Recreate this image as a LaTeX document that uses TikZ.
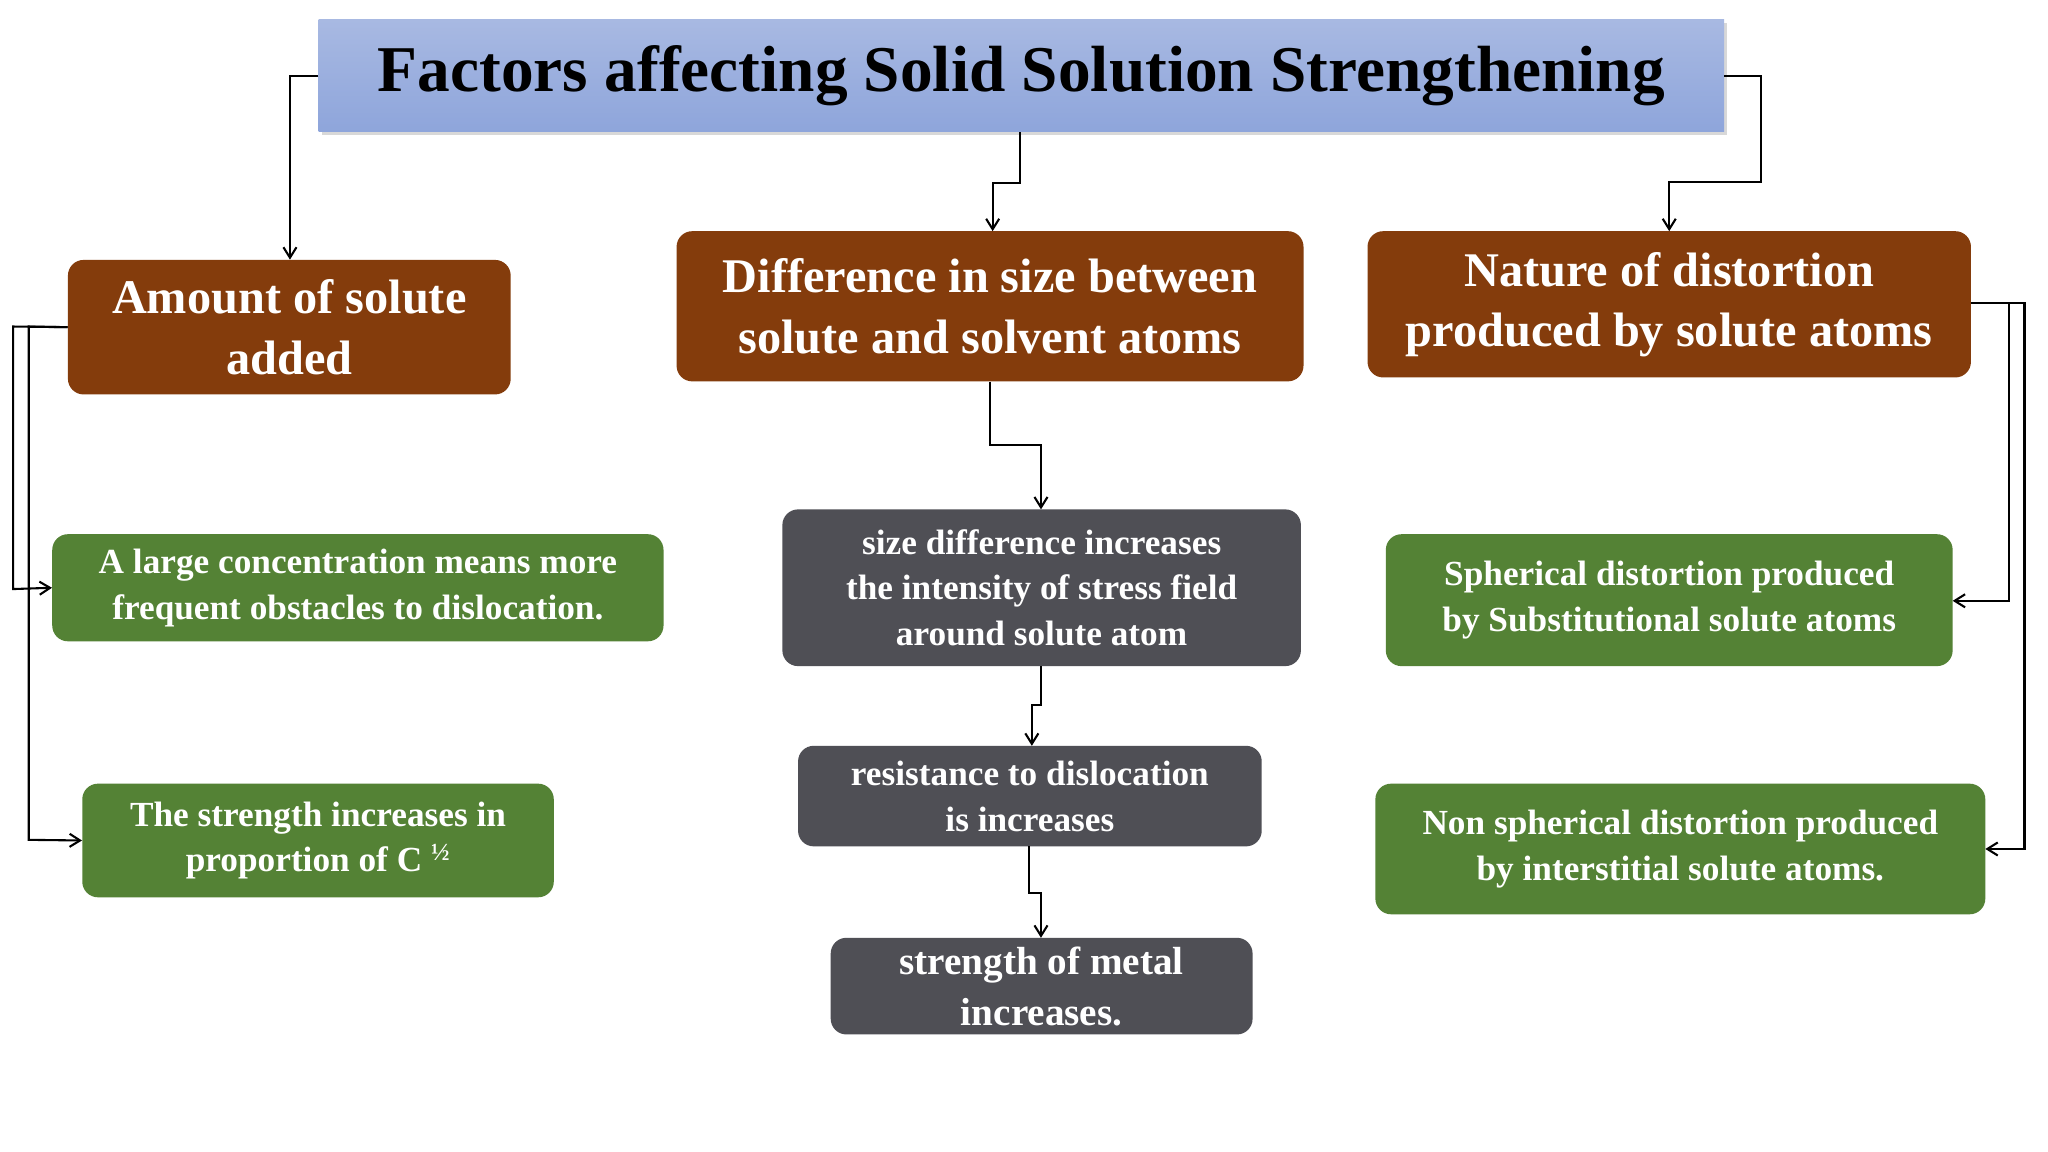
\documentclass[tikz,border=0pt]{standalone}
\usepackage{fontspec}
\setmainfont{Liberation Serif}
\usetikzlibrary{arrows.meta,shadows}
\definecolor{brn}{HTML}{843C0C}
\definecolor{grn}{HTML}{548235}
\definecolor{gry}{HTML}{4F4F55}
\definecolor{tb1}{HTML}{A8B9E2}
\definecolor{tb2}{HTML}{8EA5DB}
\tikzset{
 bx/.style={rounded corners=12pt,text=white,font=\bfseries,align=center,inner sep=0pt},
 brnbox/.style={bx,fill=brn},
 grnbox/.style={bx,fill=grn},
 grybox/.style={bx,fill=gry},
 con/.style={draw=black,line width=1.6pt,-{Straight Barb[length=8pt,width=10pt]}}
}
\newcommand{\bxat}[7]{\node[#1,minimum width=#4-#2,minimum height=#5-#3] (#6) at ({(#2+#4)/2},{(#3+#5)/2}) {#7};}
\begin{document}
\begin{tikzpicture}[x=1pt,y=-1pt]
\useasboundingbox (0,0) rectangle (1568,882);
\fill[white] (0,0) rectangle (1568,882);
\node[top color=tb1,bottom color=tb2,drop shadow={opacity=0.3},minimum width=1076,minimum height=86,inner sep=0pt,font=\bfseries\fontsize{50}{56}\selectfont] (T) at (782,58) {Factors affecting Solid Solution Strengthening};
\bxat{brnbox,font=\bfseries\fontsize{37}{46}\selectfont}{52}{199}{391}{302}{A}{Amount of solute\\added}
\bxat{brnbox,font=\bfseries\fontsize{37}{46}\selectfont}{518}{177}{998}{292}{B}{Difference in size between\\solute and solvent atoms}
\bxat{brnbox,font=\bfseries\fontsize{37}{46}\selectfont}{1047}{177}{1509}{289}{C}{Nature of distortion\\produced by solute atoms}
\bxat{grnbox,font=\bfseries\fontsize{27}{35}\selectfont}{40}{409}{508}{491}{G1}{A large concentration means more\\frequent obstacles to dislocation.}
\bxat{grnbox,font=\bfseries\fontsize{27}{35}\selectfont}{63}{600}{424}{687}{G2}{The strength increases in\\proportion of C \textsuperscript{½}}
\bxat{grnbox,font=\bfseries\fontsize{27}{35}\selectfont}{1061}{409}{1495}{510}{G3}{Spherical distortion produced\\by Substitutional solute atoms}
\bxat{grnbox,font=\bfseries\fontsize{27}{35}\selectfont}{1053}{600}{1520}{700}{G4}{Non spherical distortion produced\\by interstitial solute atoms.}
\bxat{grybox,font=\bfseries\fontsize{27}{35}\selectfont}{599}{390}{996}{510}{D1}{size difference increases\\the intensity of stress field\\around solute atom}
\bxat{grybox,font=\bfseries\fontsize{27}{35}\selectfont}{611}{571}{966}{648}{D2}{resistance to dislocation\\is increases}
\bxat{grybox,font=\bfseries\fontsize{30}{39}\selectfont}{636}{718}{959}{792}{D3}{strength of metal\\increases.}
\draw[con] (T.west) -- (222,58) -- (A.north -| 222,0);
\draw[con] (T.south -| 781,0) -- (781,140) -- (760,140) -- (760,177);
\draw[con] (T.east) -- (1348,58) -- (1348,139) -- (1278,139) -- (1278,177);
\draw[con] (A.west) -- (10,250) -- (10,451) -- (G1.west);
\draw[con] (A.west) -- (22,250) -- (22,643) -- (G2.west);
\draw[con] (B.south -| 758,0) -- (758,341) -- (797,341) -- (797,390);
\draw[con] (797,510) -- (797,540) -- (790,540) -- (790,571);
\draw[con] (788,648) -- (788,684) -- (797,684) -- (797,718);
\draw[con] (1509,232) -- (1538,232) -- (1538,460) -- (1495,460);
\draw[con] (1509,232) -- (1550,232) -- (1550,650) -- (1520,650);
\end{tikzpicture}
\end{document}
